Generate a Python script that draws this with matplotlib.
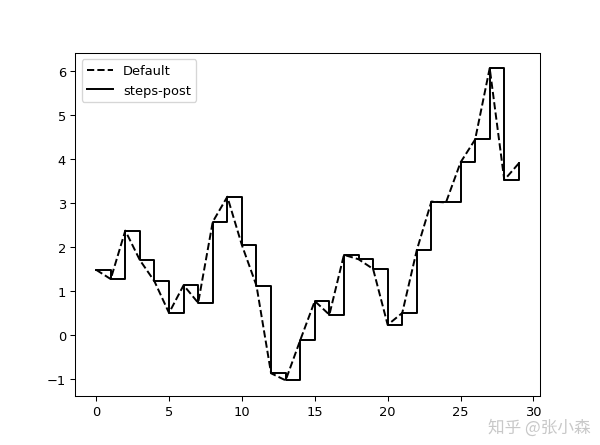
import numpy as np
import matplotlib.pyplot as plt

# random-walk values
x = list(range(30))
data = [1.49, 1.28, 2.38, 1.71, 1.23, 0.51, 1.14, 0.74, 2.58, 3.15,
        2.05, 1.13, -0.86, -1.02, -0.11, 0.78, 0.47, 1.83, 1.73, 1.51,
        0.24, 0.51, 1.94, 3.04, 3.02, 3.93, 4.45, 6.07, 3.53, 3.91]

# default 6.4in figure, rendered down to 600 px wide
fig = plt.figure(figsize=(6.4, 4.757), dpi=93.75)
ax = fig.add_subplot(1, 1, 1)
ax.plot(x, data, 'k--', label='Default')
ax.plot(x, data, 'k-', drawstyle='steps-post', label='steps-post')
ax.legend(loc='best')

# watermark
fig.text(0.985, 0.02, '知乎 @张小森', ha='right', va='bottom', fontsize=12.8,
         color='#c8c8c8', family=['Noto Sans CJK SC', 'DejaVu Sans'])

fig.savefig('out.png', dpi=93.75)
